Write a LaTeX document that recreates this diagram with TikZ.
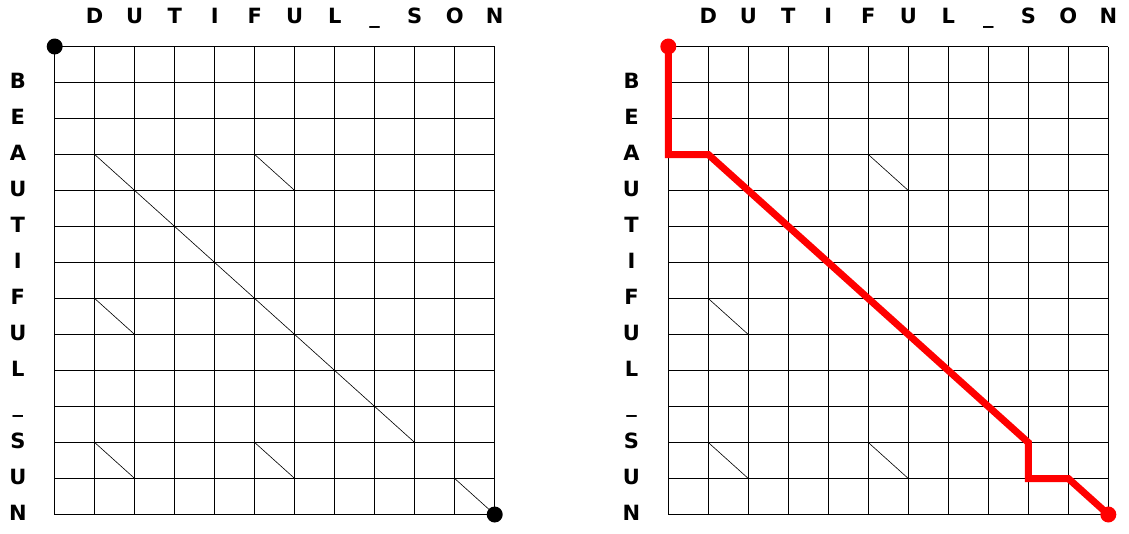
\documentclass[tikz,border=0pt]{standalone}
\usepackage{fontspec}
\setmainfont{DejaVu Sans}
\begin{document}
\begin{tikzpicture}[x=1pt, y=-1pt, line join=miter, font=\bfseries\fontsize{21}{25}\selectfont]
	\tikzset{letter style/.style={anchor=base, inner sep=0pt},
		grid line/.style={line width=1.2pt},
		match line/.style={line width=0.6pt},
		path line/.style={red, line width=7pt}}
	\useasboundingbox (0,0) rectangle (1129,533);
	% left grid: all matches
	\begin{scope}[shift={(54.7pt,-46.5pt)}, x=40pt, y=-36pt]
		\foreach \i in {0,...,11} \draw[grid line] (\i,0) -- (\i,13);
		\foreach \j in {0,...,13} \draw[grid line] (0,\j) -- (11,\j);
		\foreach \c [count=\i] in {D,U,T,I,F,U,L,\_,S,O,N}
			\node[letter style] (Lcol\i) at (\i,-0.645) {\c};
		\foreach \c [count=\j] in {B,E,A,U,T,I,F,U,L,\_,S,U,N}
			\node[letter style, yshift=-6.3pt] (Lrow\j) at (-0.92,\j) {\c};
		\coordinate (Lstart) at (0,0);
		\coordinate (Lend) at (11,13);
		\draw[match line] (1,3) -- (9,11);
		\foreach \a/\b in {5/3,1/7,1/11,5/11,10/12}
			\draw[match line] (\a,\b) -- ++(1,1);
		\fill (Lstart) circle (8pt);
		\fill (Lend) circle (8pt);
	\end{scope}
	% right grid: best path
	\begin{scope}[shift={(668.3pt,-46.5pt)}, x=40pt, y=-36pt]
		\foreach \i in {0,...,11} \draw[grid line] (\i,0) -- (\i,13);
		\foreach \j in {0,...,13} \draw[grid line] (0,\j) -- (11,\j);
		\foreach \c [count=\i] in {D,U,T,I,F,U,L,\_,S,O,N}
			\node[letter style] (Rcol\i) at (\i,-0.645) {\c};
		\foreach \c [count=\j] in {B,E,A,U,T,I,F,U,L,\_,S,U,N}
			\node[letter style, yshift=-6.3pt] (Rrow\j) at (-0.92,\j) {\c};
		\foreach \a/\b in {5/3,1/7,1/11,5/11}
			\draw[match line] (\a,\b) -- ++(1,1);
		\coordinate (P0) at (0,0);
		\coordinate (P1) at (0,3);
		\coordinate (P2) at (1,3);
		\coordinate (P3) at (9,11);
		\coordinate (P4) at (9,12);
		\coordinate (P5) at (10,12);
		\coordinate (P6) at (11,13);
		\draw[path line] (P0) -- (P1) -- (P2) -- (P3) -- (P4) -- (P5) -- (P6);
		\fill[red] (P0) circle (8pt);
		\fill[red] (P6) circle (8pt);
	\end{scope}
\end{tikzpicture}
\end{document}
